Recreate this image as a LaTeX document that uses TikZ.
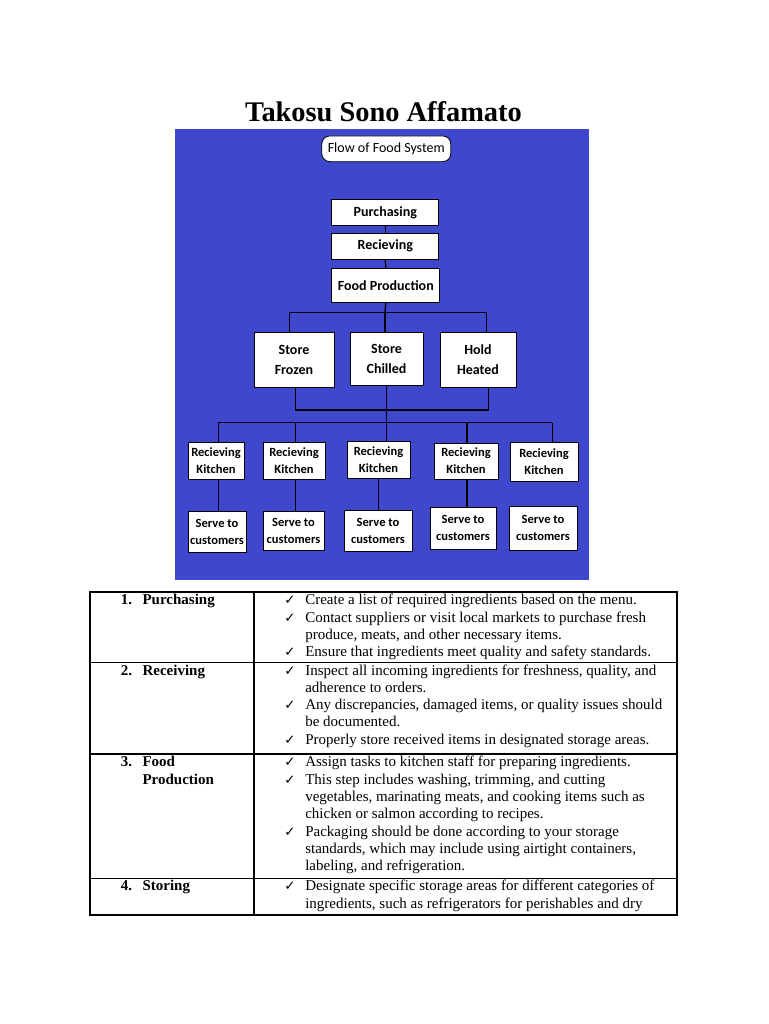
\documentclass[tikz,border=0pt]{standalone}
\usepackage{fontspec}
\setmainfont{Liberation Serif}
\newfontfamily\calib{Carlito}
\newfontfamily\dvs{DejaVu Sans}
\definecolor{bgblue}{RGB}{63,72,204}
\newcommand{\chk}[2]{\node[ck] (#1) at (284,#2) {✓};}
\newcommand{\tx}[3]{\node[tline] (#1) at (305,#2) {#3};}
\begin{document}
\begin{tikzpicture}[x=0.75pt,y=-0.75pt,
  bx/.style 2 args={minimum width=#1*0.75pt, minimum height=#2*0.75pt},
  box/.style={draw=black, fill=white, line width=0.6pt, inner sep=0pt, align=center,
    font=\calib\bfseries\fontsize{10.5}{15}\selectfont},
  smallbox/.style={box, font=\calib\bfseries\fontsize{9.4}{12.8}\selectfont},
  conn/.style={draw=black, line width=1pt},
  tline/.style={anchor=base west, inner sep=0pt, font=\fontsize{11.25}{13}\selectfont},
  tlab/.style={anchor=base west, inner sep=0pt, font=\bfseries\fontsize{11.25}{13}\selectfont},
  ck/.style={anchor=base west, inner sep=0pt, font=\dvs\fontsize{10}{12}\selectfont},
  rule/.style={draw=black, line width=0.8pt}]
\useasboundingbox[fill=white] (0,0) rectangle (768,1024);

% title
\node[anchor=base, inner sep=0pt, font=\bfseries\fontsize{21.3}{25}\selectfont] (title) at (383.5,121) {Takosu Sono Affamato};

% blue panel
\fill[bgblue] (175,129) rectangle (589,580);

\node[draw=black, fill=white, rounded corners=6pt, line width=0.6pt, inner sep=0pt, bx={129}{25.7},
  font=\calib\fontsize{10.5}{13}\selectfont] (flow) at (386.3,148.8) {Flow of Food System};

\node[box, bx={107}{26.7}] (pur) at (385.3,212.3) {Purchasing};
\node[box, bx={107}{25.7}] (rec) at (385.3,246.2) {Recieving};
\node[box, bx={108}{34}] (fp) at (385.8,285.3) {Food Production};

\node[box, bx={80}{55}] (sf) at (294,359.5) {Store\\Frozen};
\node[box, bx={73}{53}] (sc) at (386.5,358.5) {Store\\Chilled};
\node[box, bx={76}{55}] (hh) at (478,359.5) {Hold\\Heated};

\node[smallbox, bx={56}{37}] (rk1) at (216,460.5) {Recieving\\Kitchen};
\node[smallbox, bx={62}{37}] (rk2) at (294,460.5) {Recieving\\Kitchen};
\node[smallbox, bx={63}{37}] (rk3) at (378.5,459.5) {Recieving\\Kitchen};
\node[smallbox, bx={64}{36}] (rk4) at (466,461) {Recieving\\Kitchen};
\node[smallbox, bx={68}{39}] (rk5) at (544,461.5) {Recieving\\Kitchen};

\node[smallbox, bx={58}{41}] (sv1) at (217,531.5) {Serve to\\customers};
\node[smallbox, bx={61}{39}] (sv2) at (293.5,530.5) {Serve to\\customers};
\node[smallbox, bx={68}{41}] (sv3) at (378,530.5) {Serve to\\customers};
\node[smallbox, bx={66}{42}] (sv4) at (463,528) {Serve to\\customers};
\node[smallbox, bx={68}{44}] (sv5) at (543,528) {Serve to\\customers};

% connectors
\draw[conn] (pur.south) -- (rec.north);
\draw[conn] (rec.south) -- (fp.north);
\coordinate (b1) at (385,312.3);
\coordinate (b1l) at (289.3,312.3);
\coordinate (b1r) at (486.7,312.3);
\draw[conn] (fp.south) -- (b1);
\draw[conn] (b1l) -- (b1r);
\draw[conn] (b1l) -- (b1l |- sf.north);
\draw[conn] (b1) -- (b1 |- sc.north);
\draw[conn] (b1r) -- (b1r |- hh.north);

\coordinate (m1) at (295.7,410);
\coordinate (m2) at (488.3,410);
\draw[conn] (m1 |- sf.south) -- (m1) -- (m2) -- (m2 |- hh.south);
\coordinate (b2l) at (218.3,422.7);
\coordinate (b2m) at (295.7,422.7);
\coordinate (b2c) at (467,422.7);
\coordinate (b2r) at (552.3,422.7);
\draw[conn] (b2l) -- (b2r);
\draw[conn] (sc.south) -- (sc.south |- rk3.north);
\draw[conn] (b2l) -- (b2l |- rk1.north);
\draw[conn] (b2m) -- (b2m |- rk2.north);
\draw[conn] (b2c) -- (b2c |- rk4.north);
\draw[conn] (b2r) -- (b2r |- rk5.north);

\draw[conn] (b2l |- rk1.south) -- (b2l |- sv1.north);
\draw[conn] (b2m |- rk2.south) -- (b2m |- sv2.north);
\draw[conn] (rk3.south) -- (rk3.south |- sv3.north);
\draw[conn] (b2c |- rk4.south) -- (b2c |- sv4.north);

% table
\draw[rule] (90,592) rectangle (677,915);
\draw[rule] (254,592) -- (254,915);
\draw[rule] (90,662.5) -- (677,662.5);
\draw[rule] (90,754) -- (677,754);
\draw[rule] (90,878.5) -- (677,878.5);

\node[tlab] (n1) at (120.5,604.7) {1.};
\node[tlab] (l1) at (142.3,604.7) {Purchasing};
\node[tlab] (n2) at (120.5,675) {2.};
\node[tlab] (l2) at (142.3,675) {Receiving};
\node[tlab] (n3) at (120.5,766.8) {3.};
\node[tlab] (l3a) at (142.3,766.8) {Food};
\node[tlab] (l3b) at (142.3,784.1) {Production};
\node[tlab] (n4) at (120.5,890.7) {4.};
\node[tlab] (l4) at (142.3,890.7) {Storing};

\chk{c11}{604.7}\tx{t11}{604.7}{Create a list of required ingredients based on the menu.}
\chk{c12}{622}\tx{t12}{622}{Contact suppliers or visit local markets to purchase fresh}
\tx{t13}{639.3}{produce, meats, and other necessary items.}
\chk{c14}{656.6}\tx{t14}{656.6}{Ensure that ingredients meet quality and safety standards.}

\chk{c21}{675}\tx{t21}{675}{Inspect all incoming ingredients for freshness, quality, and}
\tx{t22}{692.3}{adherence to orders.}
\chk{c23}{709.6}\tx{t23}{709.6}{Any discrepancies, damaged items, or quality issues should}
\tx{t24}{726.9}{be documented.}
\chk{c25}{744.2}\tx{t25}{744.2}{Properly store received items in designated storage areas.}

\chk{c31}{766.8}\tx{t31}{766.8}{Assign tasks to kitchen staff for preparing ingredients.}
\chk{c32}{784.1}\tx{t32}{784.1}{This step includes washing, trimming, and cutting}
\tx{t33}{801.4}{vegetables, marinating meats, and cooking items such as}
\tx{t34}{818.7}{chicken or salmon according to recipes.}
\chk{c35}{836}\tx{t35}{836}{Packaging should be done according to your storage}
\tx{t36}{853.3}{standards, which may include using airtight containers,}
\tx{t37}{870.6}{labeling, and refrigeration.}

\chk{c41}{890.7}\tx{t41}{890.7}{Designate specific storage areas for different categories of}
\tx{t42}{908}{ingredients, such as refrigerators for perishables and dry}
\end{tikzpicture}
\end{document}
